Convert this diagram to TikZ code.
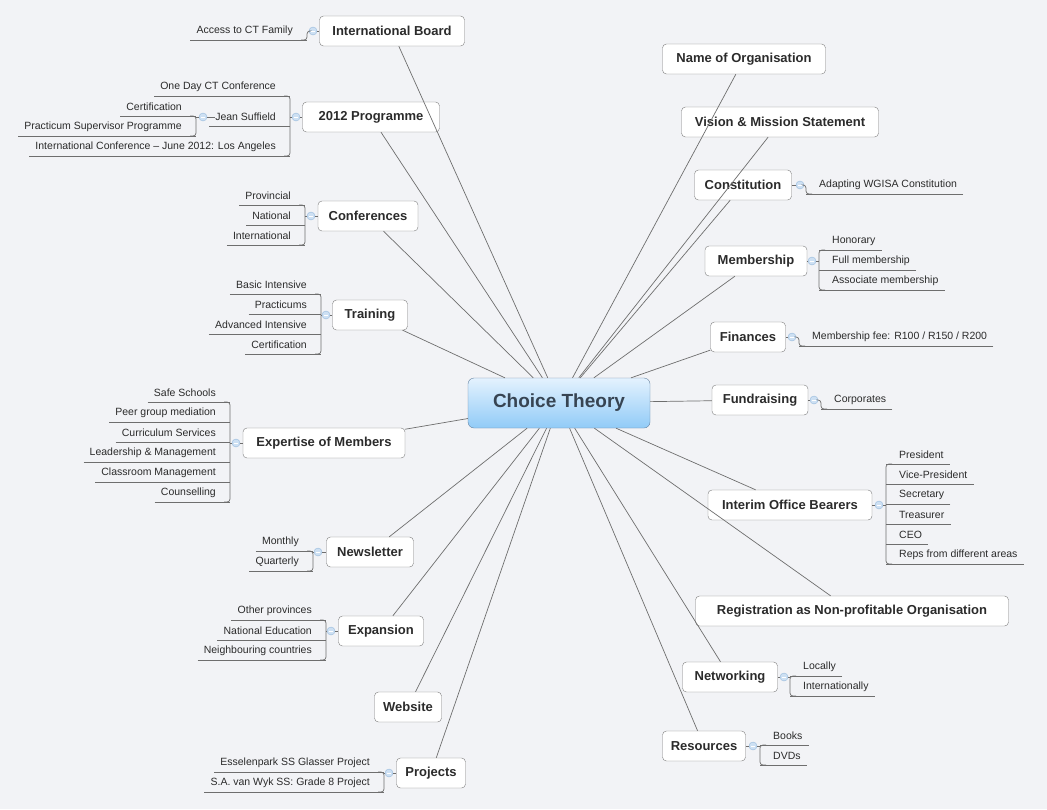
\documentclass[tikz,border=0pt]{standalone}
\usepackage{fontspec}
\setmainfont{Liberation Sans}
\definecolor{bg}{HTML}{F2F3F6}
\definecolor{ln}{HTML}{6E6E6E}
\definecolor{tx}{HTML}{2B2B2B}
\tikzset{
  ln/.style={draw=ln,line width=0.7pt},
  topic/.style={draw=ln!90,fill=white,rounded corners=4pt,minimum height=30,inner xsep=6pt,text=tx,font=\fontsize{13}{15}\selectfont\bfseries},
  sub/.style={inner sep=0pt,text=tx,font=\fontsize{10.5}{12}\selectfont},
  col/.style={circle,draw={rgb,255:red,150;green,185;blue,220},fill={rgb,255:red,205;green,224;blue,243},minimum size=8pt,inner sep=0pt,
    path picture={\draw[white,line width=0.8pt] ([xshift=-2pt]path picture bounding box.center) -- ([xshift=2pt]path picture bounding box.center);}},
}
\newcommand{\lsub}[4]{\node[sub,anchor=east] (#1) at (#2-14,#3) {#4};
  \draw[ln] ([xshift=-6pt]#1.west) ++(0,9) -- (#2,#3+9);}
\newcommand{\rsub}[4]{\node[sub,anchor=west] (#1) at (#2+13,#3) {#4};
  \draw[ln] ([xshift=6pt]#1.east) ++(0,9) -- (#2,#3+9);}
\newcommand{\lbr}[3]{\draw[ln,rounded corners=3pt] (#1-6,#2+9) -- (#1,#2+9) -- (#1,#3+9) -- (#1-6,#3+9);}
\newcommand{\rbr}[3]{\draw[ln,rounded corners=3pt] (#1+6,#2+9) -- (#1,#2+9) -- (#1,#3+9) -- (#1+6,#3+9);}
\newcommand{\lone}[4]{\draw[ln,rounded corners=3pt] (#4) -- (#1,#2) -- (#1,#3+9) -- (#1-6,#3+9);}
\newcommand{\rone}[4]{\draw[ln,rounded corners=3pt] (#4) -- (#1,#2) -- (#1,#3+9) -- (#1+6,#3+9);}
\begin{document}
\begin{tikzpicture}[x=1pt,y=-1pt]
\fill[bg] (0,0) rectangle (1047,809);
\useasboundingbox (0,0) rectangle (1047,809);
% central
\node[draw={rgb,255:red,100;green,130;blue,160},rounded corners=6pt,top color={rgb,255:red,228;green,242;blue,254},bottom color={rgb,255:red,145;green,203;blue,247},
  minimum width=182,minimum height=50,text={rgb,255:red,55;green,68;blue,82},font=\fontsize{19}{22}\selectfont\bfseries] (ct) at (559,403) {Choice Theory};
% left topics
\node[topic,minimum width=145] (ib) at (392,31) {International Board};
\node[topic,minimum width=137] (pg) at (371,117) {2012 Programme};
\node[topic,minimum width=100] (cf) at (368,216) {Conferences};
\node[topic,minimum width=75] (tr) at (370,315) {Training};
\node[topic,minimum width=162] (ex) at (324,443) {Expertise of Members};
\node[topic,minimum width=87] (nl) at (370,552) {Newsletter};
\node[topic,minimum width=85] (ep) at (381,631) {Expansion};
\node[topic,minimum width=67] (ws) at (408,707) {Website};
\node[topic,minimum width=69] (pj) at (431,773) {Projects};
% right topics
\node[topic,minimum width=163] (no) at (744,59) {Name of Organisation};
\node[topic,minimum width=197] (vm) at (780,122) {Vision \& Mission Statement};
\node[topic,minimum width=97] (cs) at (743,185) {Constitution};
\node[topic,minimum width=102] (mb) at (756,261) {Membership};
\node[topic,minimum width=75] (fi) at (748,337) {Finances};
\node[topic,minimum width=96] (fr) at (760,400) {Fundraising};
\node[topic,minimum width=164] (io) at (790,505) {Interim Office Bearers};
\node[topic,minimum width=313] (rg) at (852,611) {Registration as Non-profitable Organisation};
\node[topic,minimum width=95] (nw) at (730,677) {Networking};
\node[topic,minimum width=83] (rs) at (704,746) {Resources};
% connectors to centre
\foreach \t in {ib,pg,cf,tr,ex,nl,ep,ws,pj,no,vm,cs,mb,fi,fr,io,rg,nw,rs} \draw[ln] (ct) -- (\t);
% International Board
\node[col] (c1) at (313,31) {}; \draw[ln] (c1) -- (ib);
\lsub{a1}{307}{31}{Access to CT Family}
\lone{307}{31}{31}{c1}
% 2012 Programme
\node[col] (c2) at (296,117) {}; \draw[ln] (c2) -- (pg); \draw[ln] (c2) -- (290,117);
\lsub{b1}{290}{87}{One Day CT Conference}
\lsub{b2}{290}{117}{Jean Suffield}
\lsub{b3}{290}{147}{International Conference – June 2012: Los Angeles}
\lbr{290}{87}{147}
\node[col] (c2b) at (203,117) {}; \draw[ln] (c2b) -- (b2); \draw[ln] (c2b) -- (196,117);
\lsub{b21}{196}{107}{Certification}
\lsub{b22}{196}{127}{Practicum Supervisor Programme}
\lbr{196}{107}{127}
% Conferences
\node[col] (c3) at (311,216) {}; \draw[ln] (c3) -- (cf); \draw[ln] (c3) -- (305,216);
\lsub{d1}{305}{196}{Provincial}
\lsub{d2}{305}{216}{National}
\lsub{d3}{305}{236}{International}
\lbr{305}{196}{236}
% Training
\node[col] (c4) at (326,315) {}; \draw[ln] (c4) -- (tr); \draw[ln] (c4) -- (321,315);
\lsub{e1}{321}{285}{Basic Intensive}
\lsub{e2}{321}{305}{Practicums}
\lsub{e3}{321}{325}{Advanced Intensive}
\lsub{e4}{321}{345}{Certification}
\lbr{321}{285}{345}
% Expertise
\node[col] (c5) at (236,443) {}; \draw[ln] (c5) -- (ex); \draw[ln] (c5) -- (230,443);
\lsub{f1}{230}{393}{Safe Schools}
\lsub{f2}{230}{413}{Peer group mediation}
\lsub{f3}{230}{433}{Curriculum Services}
\lsub{f4}{230}{453}{Leadership \& Management}
\lsub{f5}{230}{473}{Classroom Management}
\lsub{f6}{230}{493}{Counselling}
\lbr{230}{393}{493}
% Newsletter
\node[col] (c6) at (318,552) {}; \draw[ln] (c6) -- (nl); \draw[ln] (c6) -- (313,552);
\lsub{g1}{313}{542}{Monthly}
\lsub{g2}{313}{562}{Quarterly}
\lbr{313}{542}{562}
% Expansion
\node[col] (c7) at (331,631) {}; \draw[ln] (c7) -- (ep); \draw[ln] (c7) -- (326,631);
\lsub{h1}{326}{611}{Other provinces}
\lsub{h2}{326}{631}{National Education}
\lsub{h3}{326}{651}{Neighbouring countries}
\lbr{326}{611}{651}
% Projects
\node[col] (c8) at (389,773) {}; \draw[ln] (c8) -- (pj); \draw[ln] (c8) -- (384,773);
\lsub{i1}{384}{763}{Esselenpark SS Glasser Project}
\lsub{i2}{384}{783}{S.A. van Wyk SS: Grade 8 Project}
\lbr{384}{763}{783}
% Constitution
\node[col] (r1) at (800,185) {}; \draw[ln] (r1) -- (cs);
\rsub{j1}{806}{185}{Adapting WGISA Constitution}
\rone{806}{185}{185}{r1}
% Membership
\node[col] (r2) at (812,261) {}; \draw[ln] (r2) -- (mb); \draw[ln] (r2) -- (819,261);
\rsub{k1}{819}{241}{Honorary}
\rsub{k2}{819}{261}{Full membership}
\rsub{k3}{819}{281}{Associate membership}
\rbr{819}{241}{281}
% Finances
\node[col] (r3) at (792,337) {}; \draw[ln] (r3) -- (fi);
\rsub{l1}{799}{337}{Membership fee: R100 / R150 / R200}
\rone{799}{337}{337}{r3}
% Fundraising
\node[col] (r4) at (814,400) {}; \draw[ln] (r4) -- (fr);
\rsub{m1}{821}{400}{Corporates}
\rone{821}{400}{400}{r4}
% Interim Office Bearers
\node[col] (r5) at (879,505) {}; \draw[ln] (r5) -- (io); \draw[ln] (r5) -- (886,505);
\rsub{n1}{886}{455}{President}
\rsub{n2}{886}{475}{Vice-President}
\rsub{n3}{886}{495}{Secretary}
\rsub{n4}{886}{515}{Treasurer}
\rsub{n5}{886}{535}{CEO}
\rsub{n6}{886}{555}{Reps from different areas}
\rbr{886}{455}{555}
% Networking
\node[col] (r6) at (784,677) {}; \draw[ln] (r6) -- (nw); \draw[ln] (r6) -- (790,677);
\rsub{o1}{790}{667}{Locally}
\rsub{o2}{790}{687}{Internationally}
\rbr{790}{667}{687}
% Resources
\node[col] (r7) at (753,746) {}; \draw[ln] (r7) -- (rs); \draw[ln] (r7) -- (760,746);
\rsub{p1}{760}{736}{Books}
\rsub{p2}{760}{756}{DVDs}
\rbr{760}{736}{756}
\end{tikzpicture}
\end{document}
